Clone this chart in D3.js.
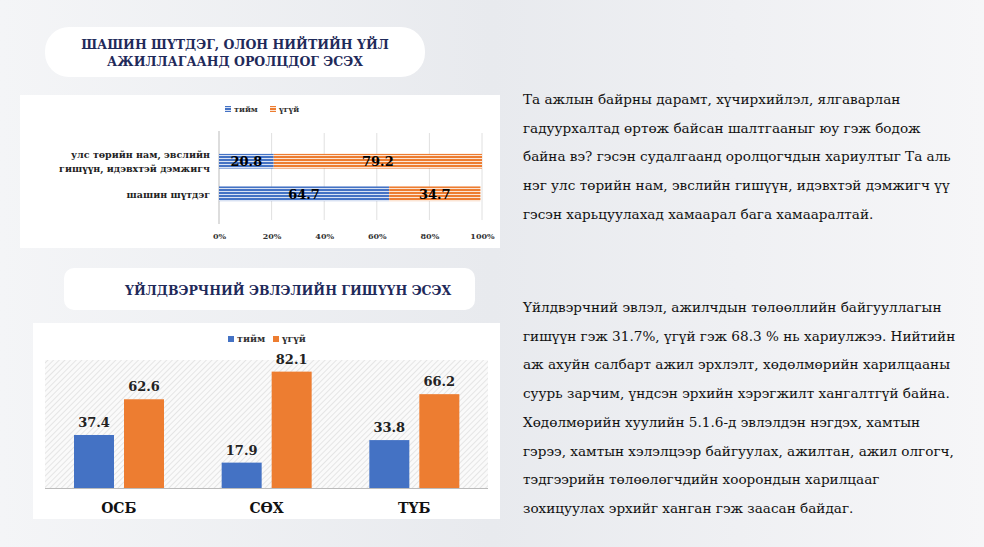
<!DOCTYPE html>
<html><head><meta charset="utf-8">
<script src="https://cdn.jsdelivr.net/npm/d3@7"></script>
<style>body{margin:0;background:#eef0f3}svg text{font-family:"DejaVu Serif",serif}</style>
</head><body>
<svg id="s" width="984" height="547"></svg>
<script>
// top chart data
var rowLabels = [["улс төрийн нам, эвслийн","гишүүн, идэвхтэй дэмжигч"], ["шашин шүтдэг"]];
var yesTop = [20.8, 64.7];
var noTop = [79.2, 34.7];
var pctTicks = [0, 20, 40, 60, 80, 100];
// bottom chart data
var groups = ["ОСБ", "СӨХ", "ТҮБ"];
var yesBot = [37.4, 17.9, 33.8];
var noBot = [62.6, 82.1, 66.2];
var seriesNames = ["тийм", "үгүй"];
var para1 = ["Та ажлын байрны дарамт, хүчирхийлэл, ялгаварлан","гадуурхалтад өртөж байсан шалтгааныг юу гэж бодож","байна вэ? гэсэн судалгаанд оролцогчдын  хариултыг Та аль","нэг улс төрийн нам, эвслийн гишүүн, идэвхтэй дэмжигч үү","гэсэн харьцуулахад  хамаарал бага хамааралтай."];
var para2 = ["Үйлдвэрчний эвлэл, ажилчдын төлөөллийн байгууллагын","гишүүн гэж 31.7%, үгүй гэж 68.3 % нь хариулжээ. Нийтийн","аж ахуйн салбарт ажил эрхлэлт, хөдөлмөрийн харилцааны","суурь зарчим, үндсэн эрхийн хэрэгжилт хангалтгүй байна.","Хөдөлмөрийн хуулийн 5.1.6-д эвлэлдэн нэгдэх, хамтын","гэрээ, хамтын хэлэлцээр байгуулах, ажилтан, ажил олгогч,","тэдгээрийн төлөөлөгчдийн хоорондын харилцааг","зохицуулах эрхийг ханган гэж заасан байдаг."];

var blue = "#4472c4", orange = "#ed7d31";
var svg = d3.select("#s");
var defs = svg.append("defs");
// background
var bg = defs.append("linearGradient").attr("id","bg").attr("x1",0).attr("x2",1);
bg.append("stop").attr("offset",0).attr("stop-color","#f4f5f7");
bg.append("stop").attr("offset",0.5).attr("stop-color","#e8eaee");
bg.append("stop").attr("offset",1).attr("stop-color","#f6f6f8");
svg.append("rect").attr("width",984).attr("height",547).attr("fill","url(#bg)");
function stripes(id, c){
  var p = defs.append("pattern").attr("id",id).attr("width",4).attr("height",3).attr("patternUnits","userSpaceOnUse");
  p.append("rect").attr("width",4).attr("height",3).attr("fill","#fff");
  p.append("rect").attr("width",4).attr("height",2.2).attr("fill",c);
}
stripes("pb", blue); stripes("po", orange);
var h = defs.append("pattern").attr("id","hatch").attr("width",4).attr("height",4).attr("patternUnits","userSpaceOnUse").attr("patternTransform","rotate(45)");
h.append("rect").attr("width",4).attr("height",4).attr("fill","#fafafa");
h.append("line").attr("x1",0).attr("y1",0).attr("x2",0).attr("y2",4).attr("stroke","#d0d0d0").attr("stroke-width",1);

function pill(x,y,w,hh,lines,fs){
  svg.append("rect").attr("x",x).attr("y",y).attr("width",w).attr("height",hh).attr("rx",24).attr("fill","#fff");
  lines.forEach(function(t,i){
    svg.append("text").attr("x",x+w/2).attr("y",y+hh/2+(i-(lines.length-1)/2)*17+5).attr("text-anchor","middle")
      .attr("font-size",fs).attr("font-weight","bold").attr("fill","#1f2a5a").text(t);
  });
}
pill(45,27,380,50,["ШАШИН ШҮТДЭГ, ОЛОН НИЙТИЙН ҮЙЛ","АЖИЛЛАГААНД ОРОЛЦДОГ ЭСЭХ"],12.5);
svg.append("rect").attr("x",64).attr("y",268).attr("width",411).attr("height",42).attr("rx",10).attr("fill","#fff");
svg.append("text").attr("x",125).attr("y",295).attr("font-size",12.5).attr("font-weight","bold").attr("fill","#1f2a5a").text("ҮЙЛДВЭРЧНИЙ  ЭВЛЭЛИЙН ГИШҮҮН ЭСЭХ");

// top chart
svg.append("rect").attr("x",20).attr("y",95).attr("width",480).attr("height",153).attr("fill","#fff");
var x = d3.scaleLinear().domain([0,100]).range([219,482]);
var y = d3.scaleBand().domain(d3.range(2)).range([136,219]).padding(0.55);
var gx = svg.append("g").attr("transform","translate(0,236)")
  .call(d3.axisBottom(x).tickValues(pctTicks).tickFormat(function(d){return d+"%";}).tickSize(0));
gx.select(".domain").remove();
gx.selectAll("text").attr("font-family","DejaVu Serif").attr("font-weight","bold").attr("font-size",8).attr("fill","#333").attr("dy",0);
pctTicks.slice(1).forEach(function(t){
  svg.append("line").attr("x1",x(t)).attr("x2",x(t)).attr("y1",133).attr("y2",220).attr("stroke","#e0e0e0");
});
svg.append("line").attr("x1",x(0)).attr("x2",x(0)).attr("y1",131).attr("y2",224).attr("stroke","#bbb");
yesTop.forEach(function(v,i){
  svg.append("rect").attr("x",x(0)).attr("y",y(i)).attr("width",x(v)-x(0)).attr("height",y.bandwidth()).attr("fill","url(#pb)");
  svg.append("rect").attr("x",x(v)).attr("y",y(i)).attr("width",x(v+noTop[i])-x(v)).attr("height",y.bandwidth()).attr("fill","url(#po)");
  svg.append("text").attr("x",x(v/2)).attr("y",y(i)+y.bandwidth()/2+5).attr("text-anchor","middle").attr("font-size",13).attr("font-weight","bold").text(v.toFixed(1));
  svg.append("text").attr("x",x(v+noTop[i]/2)).attr("y",y(i)+y.bandwidth()/2+5).attr("text-anchor","middle").attr("font-size",13).attr("font-weight","bold").text(noTop[i].toFixed(1));
  var lb = rowLabels[i];
  lb.forEach(function(t,k){
    svg.append("text").attr("x",210).attr("y",y(i)+y.bandwidth()/2+4+(k-(lb.length-1)/2)*14).attr("text-anchor","end").attr("font-size",9.5).attr("font-weight","bold").attr("fill","#222").text(t);
  });
});
function legend(cx,cy,fill,fs){
  seriesNames.forEach(function(n,i){
    var lx = cx + i*45;
    svg.append("rect").attr("x",lx).attr("y",cy-6).attr("width",6).attr("height",6).attr("fill",fill[i]);
    svg.append("text").attr("x",lx+9).attr("y",cy).attr("font-size",fs).attr("font-weight","bold").attr("fill","#333").text(n);
  });
}
legend(225,112,["url(#pb)","url(#po)"],8);

// bottom chart
svg.append("rect").attr("x",33).attr("y",323).attr("width",467).attr("height",196).attr("fill","#fff");
svg.append("rect").attr("x",45).attr("y",360).attr("width",443).attr("height",128).attr("fill","url(#hatch)");
var x0 = d3.scaleBand().domain(groups).range([45,488]);
var x1 = d3.scaleBand().domain([0,1]).range([29,119]).paddingInner(0.2);
var yb = d3.scaleLinear().domain([0,90.3]).range([488,360]);
groups.forEach(function(g,i){
  [yesBot[i], noBot[i]].forEach(function(v,k){
    svg.append("rect").attr("x",x0(g)+x1(k)).attr("y",yb(v)).attr("width",x1.bandwidth()).attr("height",yb(0)-yb(v)).attr("fill",k?orange:blue);
    svg.append("text").attr("x",x0(g)+x1(k)+x1.bandwidth()/2).attr("y",yb(v)-8).attr("text-anchor","middle").attr("font-size",13).attr("font-weight","bold").attr("fill","#222").text(v.toFixed(1));
  });
});
svg.append("line").attr("x1",45).attr("x2",488).attr("y1",488.5).attr("y2",488.5).attr("stroke","#bbb");
var gb = svg.append("g").attr("transform","translate(0,488)").call(d3.axisBottom(x0).tickSize(0));
gb.select(".domain").remove();
gb.selectAll("text").attr("font-family","DejaVu Serif").attr("font-weight","bold").attr("font-size",14).attr("fill","#111").attr("dy",22);
legend(228,342,[blue,orange],9.5);

// text paragraphs
function para(lines,y0){
  lines.forEach(function(t,i){
    svg.append("text").attr("x",523).attr("y",y0+i*28.7).attr("font-size",13.6).attr("fill","#111").text(t);
  });
}
para(para1,104);
para(para2,312);
</script>
</body></html>
